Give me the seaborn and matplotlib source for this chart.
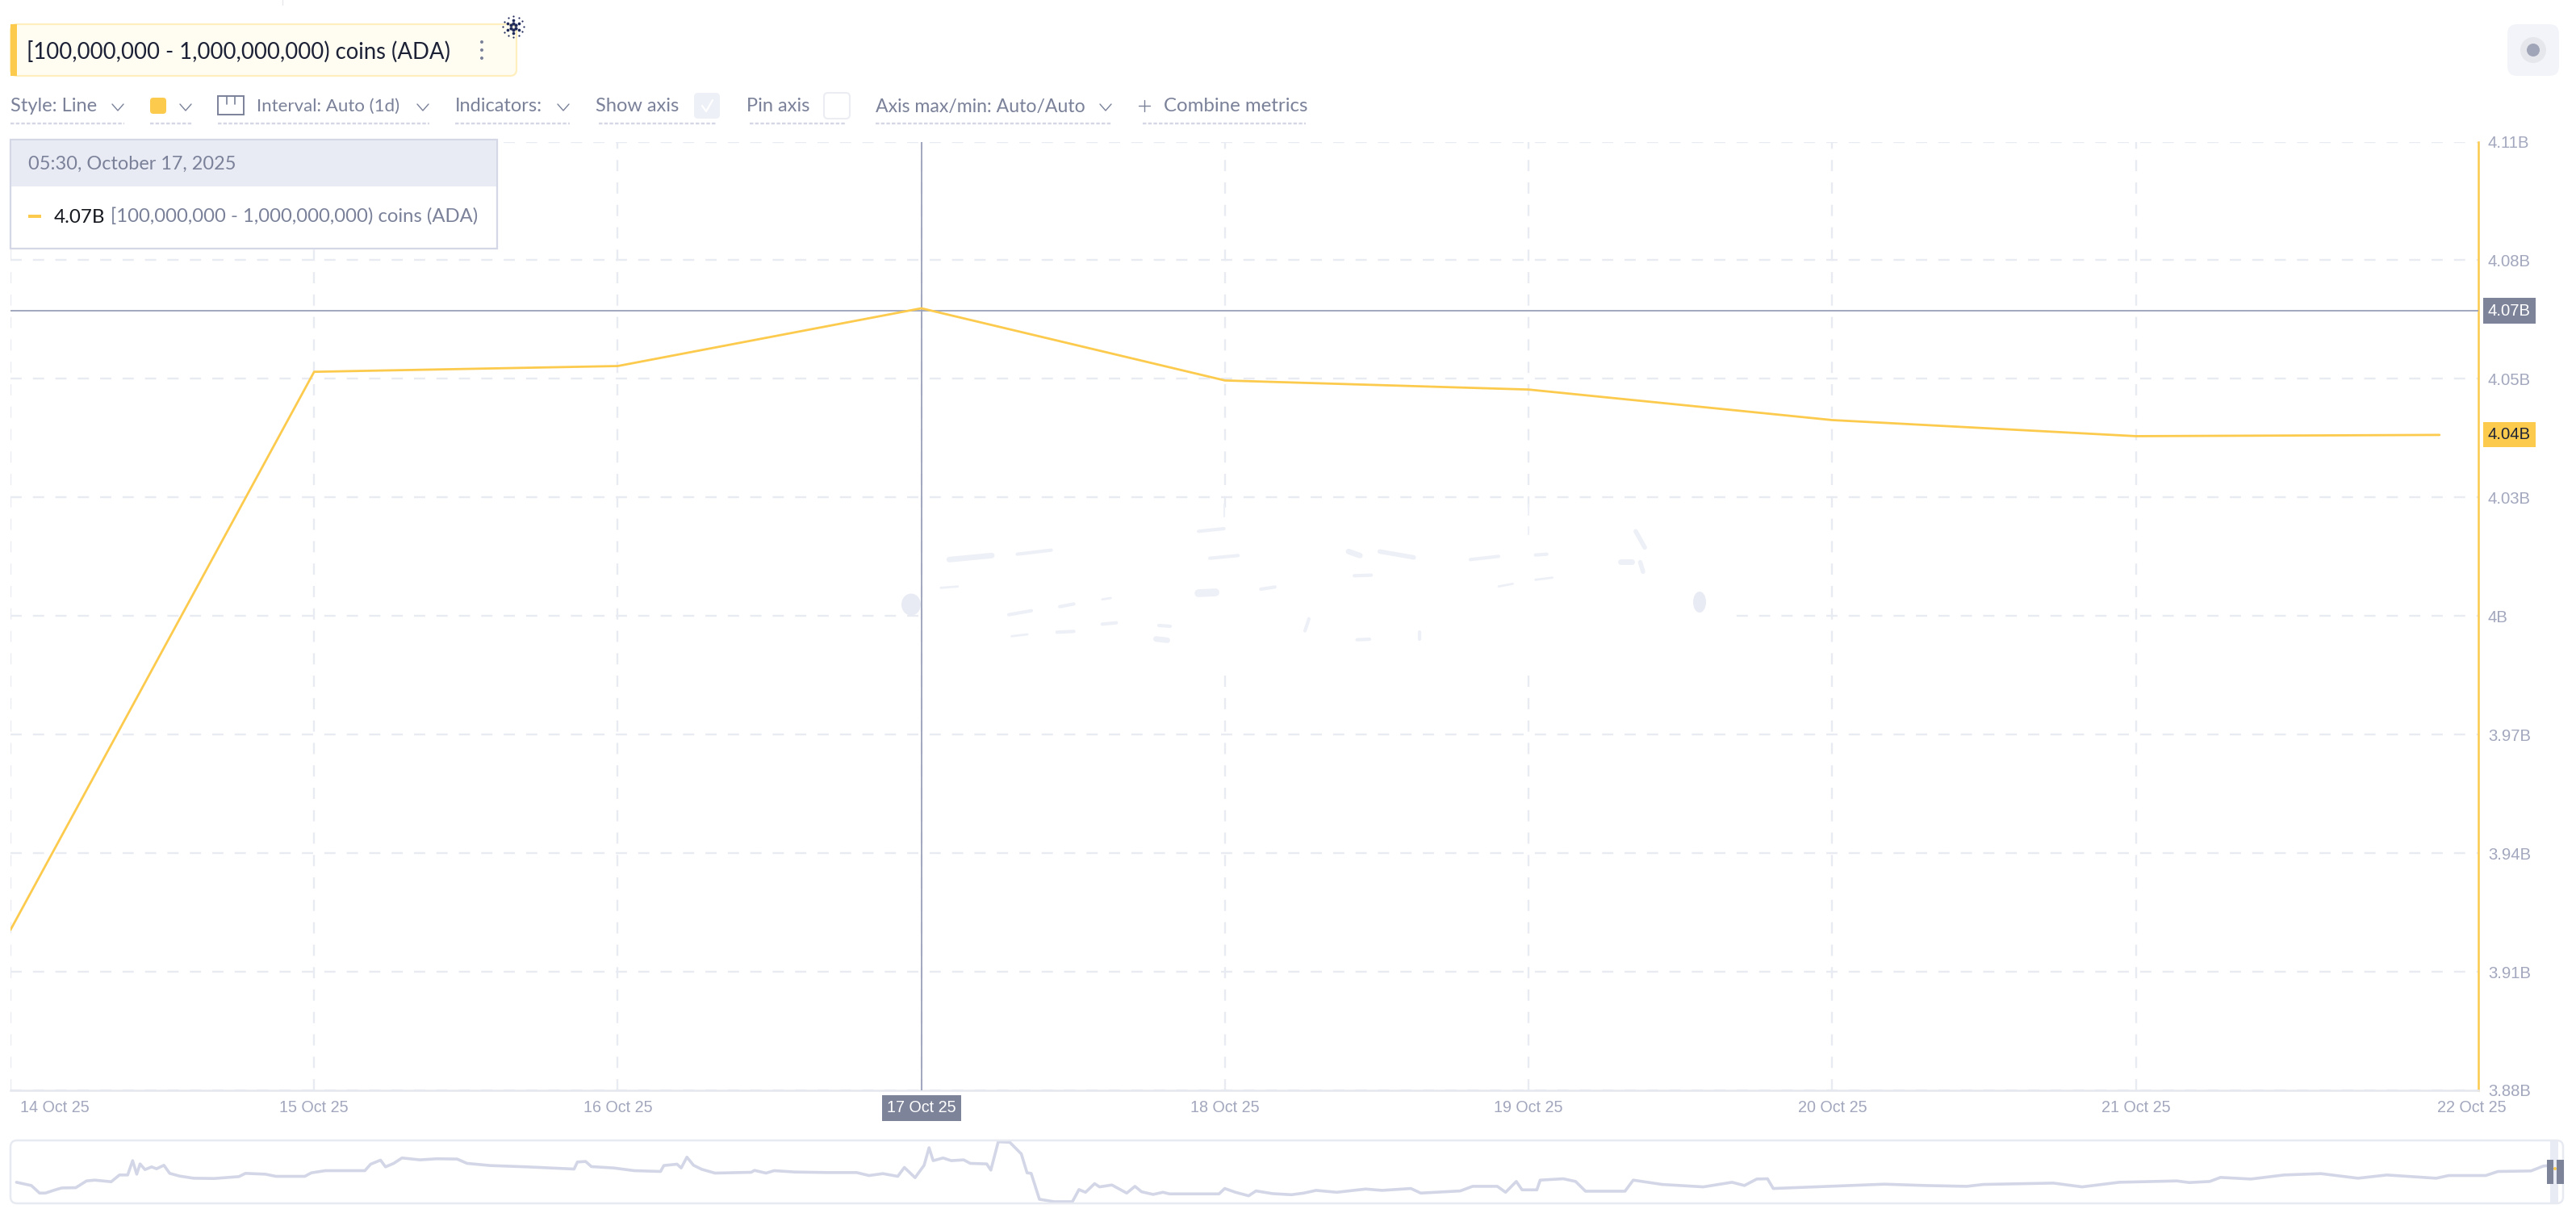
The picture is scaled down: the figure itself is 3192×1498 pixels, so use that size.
import numpy as np
import pandas as pd
import matplotlib
matplotlib.use("Agg")
import matplotlib.pyplot as plt
import seaborn as sns
from matplotlib.patches import FancyBboxPatch, Rectangle, Circle, Ellipse
from matplotlib.transforms import ScaledTranslation

# values
dates = ["2025-10-14", "2025-10-15", "2025-10-16", "2025-10-17", "2025-10-18",
         "2025-10-19", "2025-10-20", "2025-10-21", "2025-10-22"]
holdings = [3.9189, 4.0542, 4.0556, 4.0696, 4.0521, 4.0499, 4.0425, 4.0386, 4.0389]
date_labels = ["14 Oct 25", "15 Oct 25", "16 Oct 25", "17 Oct 25", "18 Oct 25",
               "19 Oct 25", "20 Oct 25", "21 Oct 25", "22 Oct 25"]
y_ticks = [4.11, 4.08125, 4.0525, 4.02375, 3.995, 3.96625, 3.9375, 3.90875, 3.88]
y_labels = ["4.11B", "4.08B", "4.05B", "4.03B", "4B", "3.97B", "3.94B", "3.91B", "3.88B"]
cross_value = 4.069

# navigator overview line, position and height as read from the strip
nav_x = [20, 38, 48, 55, 68, 75, 92, 105, 115, 135,
         145, 155, 161, 166, 170, 176, 184, 190, 199, 206,
         218, 235, 260, 290, 298, 322, 335, 370, 378, 395,
         430, 443, 450, 462, 468, 478, 488, 510, 530, 555,
         567, 595, 640, 697, 701, 711, 718, 745, 770, 802,
         806, 822, 827, 834, 842, 852, 868, 912, 916, 930,
         940, 965, 1005, 1040, 1055, 1072, 1090, 1098, 1111, 1122,
         1128, 1133, 1145, 1155, 1170, 1178, 1198, 1203, 1212, 1226,
         1240, 1247, 1252, 1262, 1280, 1302, 1310, 1318, 1329, 1335,
         1350, 1368, 1378, 1386, 1400, 1412, 1420, 1480, 1487, 1500,
         1516, 1525, 1545, 1568, 1583, 1598, 1623, 1658, 1678, 1713,
         1725, 1773, 1788, 1818, 1828, 1841, 1848, 1866, 1870, 1898,
         1913, 1925, 1973, 1983, 2018, 2068, 2103, 2118, 2133, 2146,
         2153, 2238, 2288, 2338, 2388, 2408, 2493, 2528, 2573, 2643,
         2658, 2683, 2696, 2733, 2773, 2818, 2863, 2898, 2958, 2973,
         3018, 3033, 3073, 3088, 3098]
nav_level = [78, 66, 38, 38, 51, 57, 58, 83, 86, 80,
             105, 105, 158, 108, 146, 125, 135, 128, 141, 111,
             101, 93, 92, 99, 111, 108, 100, 100, 113, 121,
             121, 121, 145, 160, 135, 148, 168, 161, 165, 164,
             148, 140, 135, 127, 153, 155, 136, 131, 121, 118,
             140, 145, 131, 171, 141, 126, 112, 115, 122, 112,
             121, 116, 114, 114, 103, 110, 100, 133, 95, 141,
             206, 158, 168, 158, 161, 148, 146, 123, 228, 226,
             183, 113, 111, 15, 6, 6, 51, 41, 73, 61,
             68, 38, 63, 43, 33, 41, 35, 35, 55, 41,
             28, 46, 36, 32, 38, 48, 41, 53, 48, 55,
             38, 46, 63, 63, 41, 81, 50, 50, 86, 91,
             81, 45, 45, 86, 70, 61, 78, 66, 90, 91,
             55, 65, 71, 66, 63, 70, 75, 61, 78, 83,
             77, 81, 96, 90, 105, 110, 93, 105, 93, 103,
             103, 118, 120, 138, 141]

INK = "#1c2136"
SLATE = "#7a8199"
PALE = "#a2a7bd"
GRID = "#e9ebf2"
YELLOW = "#fccb4e"
CROSS = "#9aa1ba"
BADGE = "#7d8399"

sns.set_style("white")
plt.rcParams["font.family"] = ["Lato", "DejaVu Sans"]
plt.rcParams["lines.scale_dashes"] = False

W, H = 3192, 1498
fig = plt.figure(figsize=(W / 100, H / 100), dpi=100, facecolor="white")


def px_axes(x0, y0, x1, y1):
    return fig.add_axes([x0 / W, 1 - y1 / H, (x1 - x0) / W, (y1 - y0) / H])


# main chart
ax = px_axes(13, 175.5, 3071, 1351)
df = pd.DataFrame({"date": pd.to_datetime(dates), "value": holdings})
sns.lineplot(data=df, x="date", y="value", ax=ax, color=YELLOW, linewidth=2.0, zorder=4)
ax.set_xlim(df["date"].iloc[0], df["date"].iloc[0] + pd.Timedelta(days=8.128))
ax.set_ylim(3.88, 4.11)
ax.set_xlabel("")
ax.set_ylabel("")
ax.set_xticks(df["date"])
ax.set_xticklabels(date_labels)
ax.yaxis.tick_right()
ax.set_yticks(y_ticks)
ax.set_yticklabels(y_labels)
ax.tick_params(axis="x", length=0, pad=9, labelsize=14.2, labelcolor=PALE)
ax.tick_params(axis="y", length=0, pad=8.6, labelsize=14.6, labelcolor=PALE)
for lab in ax.get_xticklabels() + ax.get_yticklabels():
    lab.set_fontfamily(["Liberation Sans", "DejaVu Sans"])
ax.grid(True, color=GRID, linewidth=1.7, linestyle=(0, (10, 10)))
ax.set_axisbelow(True)
ax.xaxis.get_major_ticks()[-1].gridline.set_visible(False)
for side in ["left", "top"]:
    ax.spines[side].set_visible(False)
ax.spines["bottom"].set_color("#e6e8f0")
ax.spines["bottom"].set_linewidth(1.9)
ax.spines["right"].set_color(YELLOW)
ax.spines["right"].set_linewidth(1.8)

# first and last date labels sit away from their day
tick_labels = ax.get_xticklabels()
tick_labels[0].set_transform(tick_labels[0].get_transform() + ScaledTranslation(55 / 100, 0, fig.dpi_scale_trans))
tick_labels[-1].set_transform(tick_labels[-1].get_transform() + ScaledTranslation(40 / 100, 0, fig.dpi_scale_trans))
tick_labels[3].set_color("white")
tick_labels[3].set_bbox(dict(facecolor=BADGE, edgecolor="none", pad=4.6))

# crosshair
ax.axvline(df["date"].iloc[3], color=CROSS, linewidth=1.3, zorder=3)
ax.axhline(cross_value, color=CROSS, linewidth=1.3, zorder=3)

for val, text, bg, fg in [(cross_value, "4.07B", BADGE, "white"), (holdings[-1], "4.04B", YELLOW, INK)]:
    ax.annotate(text, xy=(1, val), xycoords=ax.get_yaxis_transform(), xytext=(8.6, 0),
                textcoords="offset points", va="center", ha="left", fontsize=14.6, color=fg,
                family=["Liberation Sans", "DejaVu Sans"], annotation_clip=False,
                bbox=dict(facecolor=bg, edgecolor="none", pad=4.4), zorder=6)

# navigator strip
nav = px_axes(13, 1413, 3176, 1491)
nav_df = pd.DataFrame({"pos": nav_x, "level": nav_level})
sns.lineplot(data=nav_df, x="pos", y="level", ax=nav, color="#d3d6e6", linewidth=2.6)
nav.set_xlim(12.7, 3112)
nav.set_ylim(0, 233)
nav.set_xticks([])
nav.set_yticks([])
nav.set_xlabel("")
nav.set_ylabel("")
nav.patch.set_alpha(0)
for s in nav.spines.values():
    s.set_visible(False)

# everything around the chart, in pixels
ui = fig.add_axes([0, 0, 1, 1], zorder=10)
ui.set_xlim(0, W)
ui.set_ylim(H, 0)
ui.axis("off")
ui.patch.set_alpha(0)


def box(x0, y0, x1, y1, fc, ec="none", lw=0, r=0, z=2):
    if r:
        p = FancyBboxPatch((x0 + r, y0 + r), x1 - x0 - 2 * r, y1 - y0 - 2 * r,
                           boxstyle=f"round,pad={r},rounding_size={r}", fc=fc, ec=ec, lw=lw, zorder=z)
    else:
        p = Rectangle((x0, y0), x1 - x0, y1 - y0, fc=fc, ec=ec, lw=lw, zorder=z)
    ui.add_patch(p)


def label(x, y, s, size=17, color=SLATE, **kw):
    ui.text(x, y, s, fontsize=size, color=color, va="center_baseline", ha=kw.pop("ha", "left"), zorder=5, **kw)


def chevron(x, y=133):
    ui.plot([x - 7, x, x + 7], [y - 4, y + 4, y - 4], color=SLATE, lw=1.0, zorder=5)


def under(x0, x1, y=153):
    ui.plot([x0, x1], [y, y], color="#d5d7e6", lw=1.7, ls=(0, (3.2, 1.6)), zorder=5)


# faint remains of the watermark: wipe the grid there, then draw the scraps
box(1146, 632, 2138, 830, "white", z=1)
scraps = [(180, 220, 255, 205, 5), (300, 200, 360, 185, 3), (620, 115, 665, 105, 3), (640, 215, 690, 205, 3),
          (620, 345, 650, 342, 7), (730, 330, 755, 322, 3), (895, 280, 925, 278, 3), (1100, 220, 1150, 208, 3),
          (1215, 203, 1235, 200, 3), (1215, 295, 1245, 287, 2), (1150, 320, 1175, 310, 2), (285, 425, 325, 410, 3),
          (375, 395, 400, 385, 3), (450, 368, 465, 363, 2), (450, 460, 475, 455, 3), (290, 505, 318, 498, 2),
          (370, 490, 400, 487, 3), (165, 325, 195, 320, 2), (550, 465, 570, 468, 3), (545, 515, 565, 520, 5),
          (900, 518, 922, 516, 3), (1365, 228, 1385, 228, 5), (1392, 115, 1408, 175, 4), (940, 190, 1000, 212, 4),
          (885, 190, 905, 205, 5), (1400, 230, 1405, 265, 4), (815, 440, 808, 485, 3), (1010, 490, 1010, 515, 3),
          (665, 15, 665, 60, 1.5), (1202, 15, 1202, 55, 1.5), (1202, 100, 1202, 125, 1.5)]
for x0, y0, x1, y1, lw in scraps:
    ui.plot([x0 / 1.425 + 1050, x1 / 1.425 + 1050], [y0 / 3 + 620, y1 / 3 + 620], color="#eef0f7", lw=lw,
            solid_capstyle="round", zorder=1.5)
ui.add_patch(Ellipse((1129, 749), 24, 27, fc="#e9ebf4", ec="none", zorder=1.5))
ui.add_patch(Ellipse((2106, 746), 16, 26, fc="#e9ebf4", ec="none", zorder=1.5))

# stray mark at the very top
ui.plot([350, 350], [0, 6], color="#e8e8ec", lw=1)

# metric chip
box(13, 30, 640, 94, "#fffdf2", "#ffefbe", 1.6, r=8)
box(13, 30, 21, 94, YELLOW, z=3)
label(33, 62, "[100,000,000 - 1,000,000,000) coins (ADA)", size=19.8, color=INK)
for yy in (52, 62, 72):
    ui.add_patch(Circle((597, yy), 2, fc=SLATE, ec="none", zorder=5))

# coin icon
for rad, n, s in [(4, 6, 9), (8, 6, 7), (13, 12, 2.5)]:
    ang = np.linspace(0, 2 * np.pi, n, endpoint=False) + np.pi / 2
    ui.scatter(636 + rad * np.cos(ang), 33 + rad * np.sin(ang), s=s, color="#1f2a5a", lw=0, zorder=6)

# round button on the right
box(3107, 30, 3171, 94, "#f3f4f9", r=12)
ui.add_patch(Circle((3139, 62), 16, fc="#e6e7ec", ec="none", zorder=3))
ui.add_patch(Circle((3139, 62), 8, fc="#a0a5b8", ec="none", zorder=4))

# toolbar
label(13, 130, "Style: Line")
chevron(146)
under(13, 154)
box(186, 121, 206, 141, YELLOW, r=4)
chevron(230)
under(186, 238)
box(270, 119, 302, 142, "white", SLATE, 1.4, z=4)
ui.plot([281, 281], [119, 129], color=SLATE, lw=1.2, zorder=5)
ui.plot([291, 291], [119, 129], color=SLATE, lw=1.2, zorder=5)
label(318, 130, "Interval: Auto (1d)", size=16)
chevron(524)
under(270, 532)
label(564, 130, "Indicators:")
chevron(698)
under(564, 706)
label(738, 130, "Show axis")
box(860, 115, 892, 147, "#eef0f7", r=5)
ui.plot([870, 875, 883], [131, 138, 124], color="white", lw=1.6, zorder=5)
under(742, 888)
label(925, 130, "Pin axis")
box(1021, 115, 1053, 147, "white", "#ebedf3", 1.5, r=5)
under(929, 1049)
label(1085, 130, "Axis max/min: Auto/Auto", size=16.6)
chevron(1370)
under(1085, 1378)
ui.plot([1411, 1425], [131, 131], color=SLATE, lw=1.0, zorder=5)
ui.plot([1418, 1418], [124, 138], color=SLATE, lw=1.0, zorder=5)
label(1442, 130, "Combine metrics", size=17.3)
under(1416, 1618)

# tooltip
box(13, 173, 616, 308, "white", "#d4d7e5", 1.6, z=3)
box(14, 174, 615, 231, "#e9ebf4", z=3.5)
label(35, 201, "05:30, October 17, 2025", size=16.9)
box(35, 266, 51, 270, YELLOW, z=5)
label(67, 267, "4.07B", size=17.4, color="#15181f")
label(137, 267, "[100,000,000 - 1,000,000,000) coins (ADA)", size=17.2)

# navigator handle
box(3160, 1414, 3170, 1490, "#e9ebf4", z=2)
box(13, 1413, 3176, 1491, "none", "#e8eaf2", 1.8, r=8, z=3)
box(3156, 1437, 3164, 1467, BADGE, z=4)
box(3168, 1437, 3177, 1467, BADGE, z=4)
ui.add_patch(Circle((3166, 1448), 2, fc=YELLOW, ec="none", zorder=5))

fig.savefig("out.png", dpi=100, facecolor="white")
